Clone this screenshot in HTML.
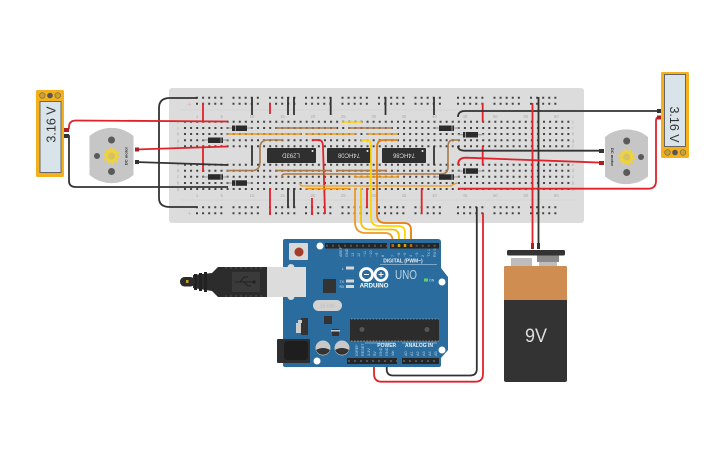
<!DOCTYPE html>
<html><head><meta charset="utf-8"><style>
html,body{margin:0;padding:0;background:#fff}
svg{display:block}
text{font-family:"Liberation Sans",sans-serif}
</style></head><body>
<svg width="725" height="453" viewBox="0 0 725 453" xmlns="http://www.w3.org/2000/svg" fill="none">
<rect width="725" height="453" fill="#fff"/>
<!-- breadboard -->
<rect x="169" y="88" width="415" height="135" rx="3" fill="#dcdcdc"/>
<path d="M180 110H575M180 200H575" stroke="#d0d0d0" stroke-width=".7"/>
<g stroke="#444" stroke-width="2" stroke-dasharray="2 4.085">
<path d="M184 121.7H570M184 128H570M184 134H570M184 140.3H570M184 146.3H570M184 164.7H570M184 170.7H570M184 176.7H570M184 183H570M184 189H570"/>
<path d="M196 97.7h26.400M232.500 97.7h26.400M269 97.7h26.400M305 97.7h26.400M341.500 97.7h26.400M378 97.7h26.400M414.500 97.7h26.400M457 97.7h26.400M493.500 97.7h26.400M530 97.7h26.400"/>
<path d="M196 103.7h26.400M232.500 103.7h26.400M269 103.7h26.400M305 103.7h26.400M341.500 103.7h26.400M378 103.7h26.400M414.500 103.7h26.400M457 103.7h26.400M493.500 103.7h26.400M530 103.7h26.400"/>
<path d="M196 207.3h26.400M232.500 207.3h26.400M269 207.3h26.400M305 207.3h26.400M341.500 207.3h26.400M378 207.3h26.400M414.500 207.3h26.400M457 207.3h26.400M493.500 207.3h26.400M530 207.3h26.400"/>
<path d="M196 213.3h26.400M232.500 213.3h26.400M269 213.3h26.400M305 213.3h26.400M341.500 213.3h26.400M378 213.3h26.400M414.500 213.3h26.400M457 213.3h26.400M493.500 213.3h26.400M530 213.3h26.400"/>
</g>
<g fill="#f0b0b0" font-size="8"><text x="187" y="107">+</text><text x="187" y="216">+</text></g>
<g fill="#aaa" font-size="4.2" text-anchor="middle">
<text x="197" y="118">1</text><text x="221.7" y="118">5</text><text x="252" y="118">10</text><text x="282.4" y="118">15</text><text x="312.8" y="118">20</text><text x="343.3" y="118">25</text><text x="373.7" y="118">30</text><text x="404" y="118">35</text><text x="434.5" y="118">40</text><text x="465" y="118">45</text><text x="495.4" y="118">50</text><text x="525.8" y="118">55</text><text x="556.2" y="118">60</text>
<text x="197" y="197">1</text><text x="221.7" y="197">5</text><text x="252" y="197">10</text><text x="282.4" y="197">15</text><text x="312.8" y="197">20</text><text x="343.3" y="197">25</text><text x="373.7" y="197">30</text><text x="404" y="197">35</text><text x="434.5" y="197">40</text><text x="465" y="197">45</text><text x="495.4" y="197">50</text><text x="525.8" y="197">55</text><text x="556.2" y="197">60</text>
<text x="178" y="123">j</text><text x="178" y="129.5">i</text><text x="178" y="135.5">h</text><text x="178" y="142">g</text><text x="178" y="148">f</text><text x="178" y="166">e</text><text x="178" y="172">d</text><text x="178" y="178">c</text><text x="178" y="184.5">b</text><text x="178" y="190.5">a</text>
<text x="573" y="123">j</text><text x="573" y="129.5">i</text><text x="573" y="135.5">h</text><text x="573" y="142">g</text><text x="573" y="148">f</text><text x="573" y="166">e</text><text x="573" y="172">d</text><text x="573" y="178">c</text><text x="573" y="184.5">b</text><text x="573" y="190.5">a</text>
</g>
<!-- ICs -->
<g fill="#2f2f2f"><rect x="267" y="148" width="49" height="15" rx="1"/><rect x="327" y="148" width="44" height="15" rx="1"/><rect x="382" y="148" width="44" height="15" rx="1"/></g>
<g fill="#eee"><circle cx="312.5" cy="151" r="1"/><circle cx="367.5" cy="151" r="1"/><circle cx="422.5" cy="151" r="1"/></g>
<g fill="#ddd" font-size="6" text-anchor="middle">
<text transform="translate(291,153.5) rotate(180)">L293D</text>
<text transform="translate(349,153.5) rotate(180)">74HC08</text>
<text transform="translate(404,153.5) rotate(180)">74HC86</text>
</g>
<!-- short black/red jumpers -->
<g stroke="#333" stroke-width="1.8">
<path d="M252 97V115M252 146V165M288 97V115M294 97V115M330.7 97V115M385.5 97V115M434 97V115M434 146V165M288 188V208M294 188V208"/>
</g>
<g stroke="#e0222a" stroke-width="1.8">
<path d="M203 103V122M203 146V172M270 103V114M270 188V215M312 198V215M367 188V207M421.7 188V214M482.7 103V122M482.7 146V165"/>
<path d="M312 140H319Q322.500 140 323 146L325 214"/>
</g>
<!-- brown -->
<g stroke="#a8794a" stroke-width="1.6">
<path d="M276 128H337M348 128H392M276 170.600H332M336 170.600H387"/>
<path d="M283 140H268Q260 140 260 148V162Q260 170.600 252 170.600H227"/>
<path d="M282 177V176Q282 174 285 174H441Q448 174 448 167V147Q448 140 453 140H460"/>
</g>
<!-- orange / yellow on board -->
<g stroke="#ee9a1a" stroke-width="1.6">
<path d="M227 134H301M306 134H356M367 134H398M306 188.700H350M354 177H399"/>
<path d="M300 183V184Q300 186 303 186H449Q452 186 453 184.500L457 183" stroke-width="1.3"/>
</g>
<path d="M342 122H362" stroke="#ffd500" stroke-width="1.6"/>
<path d="M355 188V222Q355 233 366 233H385Q392.700 233 392.700 241V246" stroke="#ec9a22" stroke-width="1.8"/>
<path d="M361 188V221Q361 229.500 370 229.500H392Q399 229.500 399 237V246" stroke="#f3c400" stroke-width="1.8"/>
<path d="M361 140H366Q371 140 371 146V218Q371 226 380 226H398Q405 226 405 233V246" stroke="#ffd500" stroke-width="1.8"/>
<path d="M398 140H384Q377 140 377 147V215Q377 223 386 223H404Q411 223 411 230V246" stroke="#e67e10" stroke-width="1.8"/>
<!-- diodes -->
<g stroke="#999" stroke-width="1.100">
<path d="M226 128H253M203 140H229M203 177H229M226 183H253M433 128H460M458 134.700H484M458 171H484M433 177H460"/>
</g>
<g fill="#2b2b2b">
<rect x="232" y="125.500" width="15" height="5.500"/><rect x="208" y="137.500" width="15" height="5.500"/><rect x="208" y="174.200" width="15" height="5.500"/><rect x="232" y="180.300" width="15" height="5.500"/><rect x="439" y="125.500" width="15" height="5.500"/><rect x="463" y="132" width="15" height="5.500"/><rect x="463" y="168.300" width="15" height="5.500"/><rect x="439" y="174.300" width="15" height="5.500"/>
</g>
<g fill="#999">
<rect x="235" y="125.500" width="1" height="5.500"/><rect x="220.500" y="137.500" width="1" height="5.500"/><rect x="220.500" y="174.200" width="1" height="5.500"/><rect x="235" y="180.300" width="1" height="5.500"/><rect x="451.500" y="125.500" width="1" height="5.500"/><rect x="465" y="132" width="1" height="5.500"/><rect x="465" y="168.300" width="1" height="5.500"/><rect x="451.500" y="174.300" width="1" height="5.500"/>
</g>
<!-- left multimeter -->
<rect x="36" y="90" width="28" height="87" rx="1.500" fill="#f5b01e"/>
<rect x="40" y="101.500" width="21" height="71" fill="#d9e4ea" stroke="#666" stroke-width="1"/>
<circle cx="42.300" cy="95.500" r="2.800" fill="#c9a22c" stroke="#666" stroke-width=".6"/><circle cx="50" cy="95.500" r="2.800" fill="#555"/><circle cx="57.700" cy="95.500" r="2.800" fill="#c9a22c" stroke="#666" stroke-width=".6"/>
<text transform="translate(55.500,124.500) rotate(-90)" font-size="12.500" text-anchor="middle" fill="#333">3.16 V</text>
<!-- right multimeter -->
<rect x="661" y="72" width="28" height="86" rx="1.500" fill="#f5b01e"/>
<rect x="664.500" y="74.500" width="21" height="72" fill="#d9e4ea" stroke="#666" stroke-width="1"/>
<circle cx="667.500" cy="152.500" r="2.800" fill="#c9a22c" stroke="#666" stroke-width=".6"/><circle cx="675" cy="152.500" r="2.800" fill="#555"/><circle cx="683" cy="152.500" r="2.800" fill="#c9a22c" stroke="#666" stroke-width=".6"/>
<text transform="translate(670,124.500) rotate(90)" font-size="12.500" text-anchor="middle" fill="#333">3.16 V</text>
<!-- motors -->
<path d="M89.500 136A34 34 0 0 1 133.500 136V175A34 34 0 0 1 89.500 175Z" fill="#c6c6c6"/>
<path d="M605 137A34 34 0 0 1 648 137V176.500A34 34 0 0 1 605 176.500Z" fill="#c6c6c6"/>
<g fill="#5a5a5a"><circle cx="111.500" cy="140" r="3.500"/><circle cx="111.500" cy="171.500" r="3.500"/><circle cx="97" cy="156" r="3"/><circle cx="626.700" cy="141" r="3.500"/><circle cx="626.700" cy="172.500" r="3.500"/><circle cx="641" cy="157" r="3"/></g>
<g>
<circle cx="111.500" cy="156" r="6.500" fill="#f0d23c"/><circle cx="111.500" cy="156" r="7.500" stroke="#f0d23c" stroke-width="2" stroke-dasharray="2.200 2.510"/><circle cx="111.500" cy="156" r="3.500" fill="#d4c364"/>
<circle cx="626.700" cy="157" r="6.500" fill="#f0d23c"/><circle cx="626.700" cy="157" r="7.500" stroke="#f0d23c" stroke-width="2" stroke-dasharray="2.200 2.510"/><circle cx="626.700" cy="157" r="3.500" fill="#d4c364"/>
</g>
<g fill="#333" font-size="4" font-weight="bold" text-anchor="middle">
<text transform="translate(127.500,156) rotate(-90)">DC motor</text>
<text transform="translate(611,157) rotate(90)">DC motor</text>
</g>
<!-- board & motor long wires -->
<g stroke="#333" stroke-width="1.800">
<path d="M197 98H170Q159 98 159 108V198Q159 207 170 207H197"/>
<path d="M66 136H69V181Q69 187 76 187H228"/>
<path d="M135 162L228 165"/>
<path d="M458 117Q458 111 465 111H659"/>
<path d="M458 146Q458 150.700 465 150.700H603"/>
<path d="M538.500 97V246"/>
<path d="M476.800 207V369Q476.800 375.500 470 375.500H393Q386.700 375.500 386.700 369V360"/>
</g>
<g stroke="#e0222a" stroke-width="1.800">
<path d="M66 130H67Q69 130 69 127Q69 120.500 76 120.500L228 121.500"/>
<path d="M135 149.500L228 146.500"/>
<path d="M659 117.500H658Q656 117.500 656 121V181Q656 188.700 648 188.700H458"/>
<path d="M458 165Q458 157.700 466 157.700L603 162.700"/>
<path d="M532.500 103V246"/>
<path d="M483 213V374Q483 381.700 475 381.700H382Q374 381.700 374 374V360"/>
</g>
<g fill="#333"><rect x="64" y="134" width="5" height="4"/><rect x="135" y="160" width="4" height="4"/><rect x="599" y="149" width="5" height="4"/><rect x="657" y="109" width="4" height="4"/></g>
<g fill="#a82020"><rect x="64" y="128" width="5" height="4"/><rect x="135" y="147.500" width="4" height="4"/><rect x="599" y="161" width="5" height="4"/><rect x="657" y="115.500" width="4" height="4"/></g>
<!-- battery -->
<rect x="511" y="258" width="21" height="9" fill="#bdbdbd"/>
<rect x="537" y="255" width="22" height="7" fill="#8a8a8a"/>
<rect x="539" y="262" width="18" height="5" fill="#bdbdbd"/>
<rect x="507" y="250" width="58" height="5.500" rx="1.500" fill="#333"/>
<rect x="504" y="266" width="63" height="116" rx="2" fill="#333"/>
<path d="M504 300V268Q504 266 506 266H565Q567 266 567 268V300Z" fill="#cf8d52"/>
<rect x="531" y="243" width="3" height="6" fill="#a82020"/><rect x="537" y="243" width="3" height="6" fill="#333"/>
<text x="525" y="342" font-size="19" textLength="22" lengthAdjust="spacingAndGlyphs" fill="#ddd">9V</text>
<!-- arduino board -->
<path d="M285 239H438Q441 239 441 242V268L448 277V350L441 358V365Q441 367 439 367H285Q283 367 283 365V241Q283 239 285 239Z" fill="#2a6c9d"/>
<g fill="#fff"><circle cx="320" cy="246" r="3.500"/><circle cx="442" cy="282" r="3.500"/><circle cx="442" cy="350" r="3.500"/><circle cx="317" cy="361" r="3.500"/></g>
<!-- headers -->
<g fill="#262626"><rect x="325" y="243" width="62" height="5.500"/><rect x="390" y="243" width="49" height="5.500"/><rect x="347" y="358" width="50" height="6"/><rect x="402" y="358" width="37" height="6"/></g>
<g stroke="#555" stroke-width="2" stroke-dasharray="2 4">
<path d="M326 245.700H387M391.700 245.700H439M348 361H397M403 361H439"/>
</g>
<!-- reset -->
<rect x="289" y="243" width="19" height="17" rx="1" fill="#d8d8d8"/>
<circle cx="299" cy="252" r="4.500" fill="#a33c28"/>
<!-- USB -->
<rect x="267" y="267" width="39" height="30" fill="#dcdcdc"/>
<circle cx="291" cy="267.500" r="3.500" fill="#dcdcdc"/><circle cx="291" cy="296.500" r="3.500" fill="#dcdcdc"/>
<path d="M212 273L218 267H267V297H218L212 291Z" fill="#2c2c2c"/>
<path d="M225 268H265M225 296H265" stroke="#555" stroke-width="1" stroke-dasharray="2 3"/>
<path d="M193 275L212 273V291L193 288Z" fill="#2c2c2c"/>
<rect x="194" y="274" width="3" height="16" fill="#222"/><rect x="199" y="273" width="3" height="18" fill="#222"/><rect x="204" y="272" width="3" height="20" fill="#222"/>
<rect x="180" y="277" width="15" height="9.500" rx="4.500" fill="#2c2c2c"/>
<rect x="186" y="280" width="2.500" height="3" fill="#c8a020"/>
<rect x="232" y="272" width="28" height="20" fill="#3a3a3a"/>
<path d="M235 282H254M240 282L244 277H248M244 282L248 286H251" stroke="#222" stroke-width="1"/>
<circle cx="254" cy="282" r="1.600" fill="#222"/>
<!-- chips etc -->
<rect x="323" y="279" width="13" height="14" fill="#333"/>
<rect x="313" y="300" width="29" height="11" rx="5.500" fill="#d2d2d2"/>
<text x="327.500" y="307.500" font-size="5" fill="#bbb" text-anchor="middle">16.000</text>
<rect x="324" y="316" width="8" height="8" fill="#333"/>
<rect x="296" y="323" width="6" height="10" fill="#ccc"/><rect x="301" y="318" width="7" height="17" fill="#333"/><rect x="298" y="320" width="4" height="3" fill="#ccc"/>
<rect x="332" y="329" width="7" height="7" fill="#333"/><rect x="331" y="330" width="9" height="1.500" fill="#ccc"/>
<rect x="350" y="319" width="89" height="22" fill="#2c2c2c"/>
<path d="M351 319H439M351 341H439" stroke="#aaa" stroke-width=".8" stroke-dasharray="1.500 1.600"/>
<circle cx="362" cy="329.500" r="2.500" fill="#555"/><circle cx="427" cy="329.500" r="2.500" fill="#555"/>
<!-- caps -->
<circle cx="323" cy="348" r="7.500" fill="#c8c8c8"/><path d="M316 350A7.500 7.500 0 0 0 330 350Q323 346 316 350Z" fill="#333"/>
<circle cx="342" cy="348" r="7.500" fill="#c8c8c8"/><path d="M335 350A7.500 7.500 0 0 0 349 350Q342 346 335 350Z" fill="#333"/>
<!-- jack -->
<rect x="277" y="339" width="33" height="24" rx="1" fill="#2e2e2e"/>
<rect x="284" y="341" width="24" height="19" rx="3" fill="#1e1e1e"/>
<!-- LEDs -->
<g fill="#d8d8d8"><rect x="346" y="266.500" width="8" height="3"/><rect x="346" y="279.500" width="8" height="3"/><rect x="346" y="285" width="8" height="3"/></g>
<rect x="424" y="278.500" width="4" height="3" fill="#5fd35f"/>
<g fill="#cfe0ec" font-size="3.500">
<text x="342" y="270">L</text><text x="339.500" y="283">TX</text><text x="339.500" y="288">RX</text><text x="429" y="281.500">ON</text>
</g>
<!-- logo -->
<circle cx="366.500" cy="274.500" r="6" stroke="#fff" stroke-width="2.800"/><circle cx="381" cy="274.500" r="6" stroke="#fff" stroke-width="2.800"/>
<path d="M364 274.500H369M378.500 274.500H383.500M381 272V277" stroke="#fff" stroke-width="1"/>
<text x="374" y="287.500" font-size="6.200" font-weight="bold" fill="#fff" text-anchor="middle">ARDUINO</text>
<text x="395" y="279" font-size="12.500" textLength="22" lengthAdjust="spacingAndGlyphs" fill="#bcd2e2">UNO</text>
<!-- labels -->
<g fill="#e6eef4" font-size="5" font-weight="bold" text-anchor="middle">
<text x="403" y="262.500">DIGITAL (PWM~)</text>
<text x="386.700" y="347">POWER</text>
<text x="419" y="347">ANALOG IN</text>
</g>
<path d="M380 264.500H437M365 343H395M402 343H437" stroke="#cfe0ec" stroke-width=".6"/>
<g fill="#bcd2e2" font-size="3.800">
<text transform="translate(342,257) rotate(-90)">AREF</text><text transform="translate(348,257) rotate(-90)">GND</text><text transform="translate(354,257) rotate(-90)">13</text><text transform="translate(360,257) rotate(-90)">12</text><text transform="translate(366,257) rotate(-90)">~11</text><text transform="translate(372,257) rotate(-90)">~10</text><text transform="translate(378,257) rotate(-90)">~9</text><text transform="translate(384,257) rotate(-90)">8</text>
<text transform="translate(394,257) rotate(-90)">7</text><text transform="translate(400,257) rotate(-90)">~6</text><text transform="translate(406,257) rotate(-90)">~5</text><text transform="translate(412,257) rotate(-90)">4</text><text transform="translate(418,257) rotate(-90)">~3</text><text transform="translate(424,257) rotate(-90)">2</text><text transform="translate(430,257) rotate(-90)">TX 1</text><text transform="translate(436,257) rotate(-90)">RX 0</text>
<text transform="translate(358,356) rotate(-90)">IOREF</text><text transform="translate(364,356) rotate(-90)">RESET</text><text transform="translate(370,356) rotate(-90)">3.3V</text><text transform="translate(376,356) rotate(-90)">5V</text><text transform="translate(382,356) rotate(-90)">GND</text><text transform="translate(388,356) rotate(-90)">GND</text><text transform="translate(394,356) rotate(-90)">Vin</text>
<text transform="translate(407,356) rotate(-90)">A0</text><text transform="translate(413,356) rotate(-90)">A1</text><text transform="translate(419,356) rotate(-90)">A2</text><text transform="translate(425,356) rotate(-90)">A3</text><text transform="translate(431,356) rotate(-90)">A4</text><text transform="translate(437,356) rotate(-90)">A5</text>
</g>
<!-- wire ends at arduino -->
<g fill="#b5651d"><rect x="391.500" y="244" width="2.500" height="3"/><rect x="409.800" y="244" width="2.500" height="3"/></g>
<g fill="#c9a400"><rect x="397.800" y="244" width="2.500" height="3"/><rect x="403.800" y="244" width="2.500" height="3"/></g>
</svg>
</body></html>
